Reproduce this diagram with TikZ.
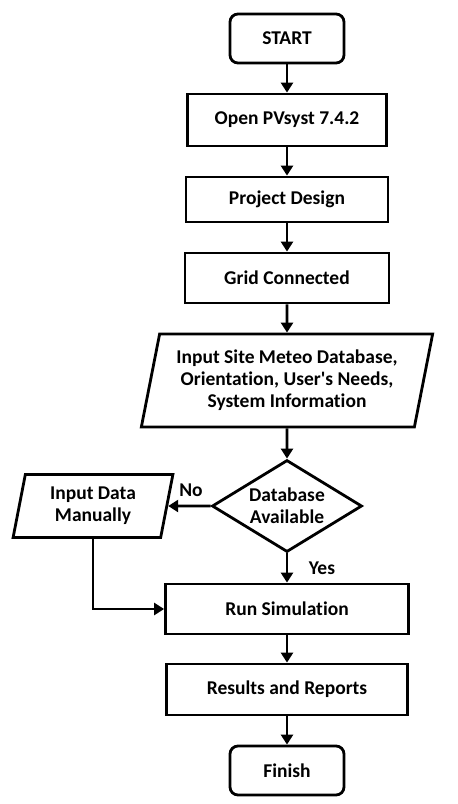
\documentclass[tikz,border=0pt]{standalone}
\usepackage{fontspec}
\setmainfont{Carlito}[Ligatures=NoCommon]
\usetikzlibrary{shapes.geometric}
\usetikzlibrary{arrows.meta}

\begin{document}
\begin{tikzpicture}[x=1pt,y=-1pt,
    box/.style={draw, line width=2.8pt, align=center, inner sep=2pt},
    term/.style={box, rounded corners=8pt},
    io/.style={box, trapezium, trapezium stretches=true},
    decision/.style={box, diamond, aspect=1.6, inner sep=0pt},
    arr/.style={line width=2.8pt, -{Triangle[width=12pt,length=10pt]}}]
\useasboundingbox (0,0) rectangle (458,804);
\begin{scope}[font=\bfseries\fontsize{19.5}{22}\selectfont]
    % Main column:
    \node [term, minimum width=114pt, minimum height=49pt] (start) at (287,38.5) {START};
    \node [box, minimum width=199pt, minimum height=52pt] (open) at (287,120) {Open PVsyst 7.4.2};
    \node [box, minimum width=202pt, minimum height=45pt] (design) at (287,199.5) {Project Design};
    \node [box, minimum width=204pt, minimum height=50pt] (grid) at (287,278) {Grid Connected};
    \node [io, minimum width=292pt, minimum height=93pt, trapezium left angle=76, trapezium right angle=104] (input) at (287,380.5)
        {Input Site Meteo Database,\\ Orientation, User\textquotesingle s Needs,\\ System Information};
    \node [decision, minimum width=150pt, minimum height=92pt] (avail) at (287,506) {Database\\ Available};
    \node [box, minimum width=243pt, minimum height=50pt] (run) at (287,609) {Run Simulation};
    \node [box, minimum width=241pt, minimum height=51pt] (results) at (287,689.5) {Results and Reports};
    \node [term, minimum width=114pt, minimum height=49pt] (finish) at (287,770.5) {Finish};

    % Side branch:
    \node [io, minimum width=160pt, minimum height=63pt, trapezium left angle=79, trapezium right angle=101] (manual) at (93,506)
        {Input Data\\ Manually};

    % Branch labels:
    \node (no) at (191,490) {No};
    \node (yes) at (322,568) {Yes};

    % Arrows:
    \draw [arr] (start) -- (open);
    \draw [arr] (open) -- (design);
    \draw [arr] (design) -- (grid);
    \draw [arr] (grid) -- (input);
    \draw [arr] (input) -- (avail);
    \draw [arr] (avail) -- (manual);
    \draw [arr] (avail) -- (run);
    \draw [arr] (manual.south) |- (run.west);
    \draw [arr] (run) -- (results);
    \draw [arr] (results) -- (finish);
\end{scope}
\end{tikzpicture}
\end{document}
